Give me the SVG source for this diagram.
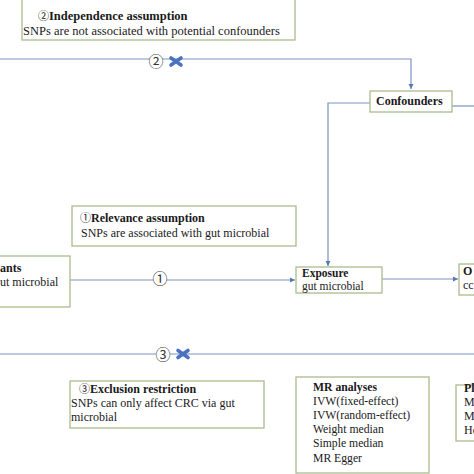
<svg xmlns="http://www.w3.org/2000/svg" width="474" height="474" viewBox="0 0 474 474">
<style>
.box{fill:#ffffff;stroke:#abbc8e;stroke-width:1.3}
.t{font-family:"Liberation Serif","Times New Roman",serif;font-size:12px;fill:#1a1a1a}
.b{font-weight:bold}
.cd{font-family:"Noto Sans CJK JP","DejaVu Sans",sans-serif;font-weight:normal}
.ln{fill:none;stroke:#7b93c2;stroke-width:1.2}
.xm{stroke:#4a72c0;stroke-width:3.6;stroke-linecap:round}
.cn{font-family:"Noto Sans CJK JP","DejaVu Sans",sans-serif;font-size:15px;fill:#333333}
</style>
<defs>
<marker id="ah" markerWidth="6" markerHeight="6" refX="5" refY="3" orient="auto" markerUnits="userSpaceOnUse">
<path d="M0,0.5 L5,3 L0,5.5 Z" fill="#5a78b8"/>
</marker>
</defs>
<rect width="474" height="474" fill="#ffffff"/>
<g id="connectors">
<path class="ln" d="M0,59 H411 V89" marker-end="url(#ah)"/>
<path class="ln" d="M370,103 H328 V266" marker-end="url(#ah)"/>
<path class="ln" d="M452,106 H474"/>
<path class="ln" d="M70,280 H295" marker-end="url(#ah)"/>
<path class="ln" d="M382,279 H458" marker-end="url(#ah)"/>
<path class="ln" d="M0,354 H474"/>
<g id="mark2">
<circle cx="156" cy="61" r="7" fill="#ffffff"/>
<text class="cn" x="156" y="66.5" text-anchor="middle">②</text>
<line class="xm" x1="171" y1="58" x2="181" y2="65"/>
<line class="xm" x1="171" y1="65" x2="181" y2="58"/>
</g>
<g id="mark1">
<circle cx="160" cy="278" r="7" fill="#ffffff"/>
<text class="cn" x="160" y="283.5" text-anchor="middle">①</text>
</g>
<g id="mark3">
<circle cx="163" cy="354" r="7" fill="#ffffff"/>
<text class="cn" x="163" y="359.5" text-anchor="middle">③</text>
<line class="xm" x1="178" y1="350.5" x2="188" y2="357.5"/>
<line class="xm" x1="178" y1="357.5" x2="188" y2="350.5"/>
</g>
</g>
<g id="independence">
<rect class="box" x="22" y="-1" width="273" height="41"/>
<text class="t" x="38" y="20" style="font-size:12.5px"><tspan class="cd" font-size="11">②</tspan><tspan class="b">Independence  assumption</tspan></text>
<text class="t" x="23" y="35" style="font-size:12.5px">SNPs are not associated with potential confounders</text>
</g>
<g id="confounders">
<rect class="box" x="370" y="91" width="82" height="21"/>
<text class="t b" x="376" y="105">Confounders</text>
</g>
<g id="relevance">
<rect class="box" x="72" y="206" width="224" height="40"/>
<text class="t" x="80" y="222"><tspan class="cd" font-size="11">①</tspan><tspan class="b">Relevance assumption</tspan></text>
<text class="t" x="81" y="237">SNPs are associated with gut microbial</text>
</g>
<g id="instruments">
<rect class="box" x="-2" y="256" width="72" height="51"/>
<text class="t b" x="0" y="272">ants</text>
<text class="t" x="0" y="286">ut microbial</text>
</g>
<g id="exposure">
<rect class="box" x="296" y="267" width="86" height="26"/>
<text class="t b" x="302" y="276.5" style="font-size:11.5px">Exposure</text>
<text class="t" x="302" y="290" style="font-size:11.5px">gut microbial</text>
</g>
<g id="outcome">
<rect class="box" x="459" y="264" width="20" height="31"/>
<text class="t b" x="463" y="275">O</text>
<text class="t" x="463" y="289">cc</text>
</g>
<g id="exclusion">
<rect class="box" x="70" y="381" width="194" height="47"/>
<text class="t" x="79" y="393"><tspan class="cd" font-size="11">③</tspan><tspan class="b">Exclusion restriction</tspan></text>
<text class="t" x="71" y="407">SNPs can only affect CRC via  gut</text>
<text class="t" x="71" y="421">microbial</text>
</g>
<g id="mr-analyses">
<rect class="box" x="296" y="377" width="133" height="96"/>
<text class="t b" x="313" y="391" style="font-size:11.7px">MR analyses</text>
<text class="t" x="313" y="405" style="font-size:11.7px">IVW(fixed-effect)</text>
<text class="t" x="313" y="419" style="font-size:11.7px">IVW(random-effect)</text>
<text class="t" x="313" y="433" style="font-size:11.7px">Weight median</text>
<text class="t" x="313" y="447" style="font-size:11.7px">Simple median</text>
<text class="t" x="313" y="462" style="font-size:11.7px">MR Egger</text>
</g>
<g id="pleiotropy">
<rect class="box" x="456" y="385" width="22" height="56"/>
<text class="t b" x="464" y="392">Pl</text>
<text class="t" x="464" y="406">M</text>
<text class="t" x="464" y="420">M</text>
<text class="t" x="464" y="434">He</text>
</g>
</svg>
